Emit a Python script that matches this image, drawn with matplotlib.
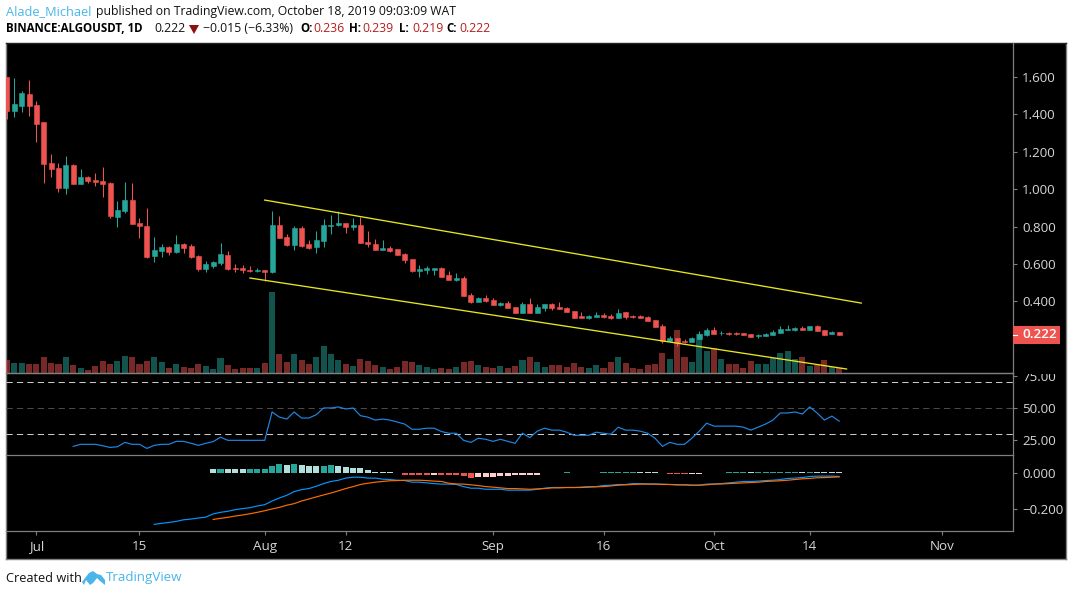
#!/usr/bin/env python3
import numpy as np
import pandas as pd
import matplotlib
matplotlib.use("Agg")
import matplotlib.pyplot as plt
import matplotlib.dates as mdates
from matplotlib.patches import Rectangle, Polygon
from matplotlib.transforms import Bbox

W, H = 1073, 596

dates = pd.date_range("2019-06-27", periods=114)

opens = [1.60,1.420,1.447,1.509,1.450,1.359,1.140,1.113,1.008,1.129,1.030,1.065,1.049,1.044,1.033,0.851,0.883,0.942,0.819,0.803,0.644,0.671,0.691,0.666,0.707,0.696,0.643,0.573,0.591,0.605,0.648,0.578,0.578,0.568,0.564,0.568,0.557,
         .809,.744,.702,.792,.707,.691,.723,.803,.809,.819,.798,.809,.718,.707,.675,.686,.680,.653,.627,.562,.568,.568,.578,.541,.514,.525,.434,.397,.418,.407,.381,.391,.370,.338,.386,
         .338,.364,.386,.370,.364,.349,.322,.311,.317,.327,.322,.311,.343,.322,.322,.317,.300,.268,.188,.204,.188,.183,.199,.220,.247,.230,.231,.231,.231,.226,.213,.215,.220,.231,.247,.247,.258,.247,.268,.247,.226,.236]
highs = [1.60,1.595,1.525,1.584,1.470,1.359,1.188,1.140,1.177,1.135,1.108,1.069,1.087,1.119,1.038,.937,1.038,1.033,.846,.899,.744,.707,.696,.755,.712,.707,.648,.616,.616,.712,.669,.600,.595,.589,.578,.568,.883,
         .857,.760,.803,.803,.728,.776,.841,.862,.883,.819,.846,.851,.776,.734,.728,.696,.680,.659,.627,.595,.589,.578,.584,.562,.552,.536,.445,.423,.434,.418,.397,.402,.370,.397,.418,
         .386,.386,.391,.397,.370,.349,.343,.327,.343,.338,.333,.359,.343,.327,.327,.322,.300,.279,.215,.204,.199,.209,.242,.258,.263,.242,.236,.236,.231,.226,.226,.231,.247,.268,.274,.263,.268,.268,.274,.247,.242,.239]
lows = [1.377,1.388,1.415,1.393,1.254,1.035,1.067,.987,.976,1.030,1.030,1.035,1.019,.960,.848,.800,.873,.816,.741,.634,.612,.639,.650,.661,.661,.634,.564,.559,.580,.595,.568,.557,.552,.557,.557,.511,.552,
        .739,.696,.675,.691,.680,.659,.691,.760,.803,.766,.782,.712,.691,.675,.675,.664,.648,.605,.557,.530,.546,.541,.530,.514,.509,.429,.391,.397,.397,.381,.375,.365,.338,.338,.338,
        .338,.349,.354,.359,.343,.311,.311,.306,.317,.311,.306,.311,.306,.311,.311,.295,.263,.178,.188,.161,.178,.183,.199,.215,.226,.220,.220,.220,.220,.209,.204,.215,.220,.231,.247,.242,.247,.247,.242,.220,.226,.219]
closes = [1.420,1.455,1.514,1.447,1.350,1.137,1.108,1.008,1.129,1.030,1.065,1.044,1.040,1.028,.858,.889,.942,.816,.803,.639,.675,.691,.666,.707,.687,.639,.573,.600,.611,.654,.573,.573,.568,.562,.568,.557,.809,
          .739,.702,.792,.696,.685,.728,.809,.809,.819,.798,.809,.712,.707,.675,.686,.670,.648,.621,.562,.573,.578,.578,.530,.514,.525,.429,.397,.418,.402,.381,.391,.365,.338,.386,.338,
          .370,.386,.364,.359,.343,.311,.311,.322,.327,.317,.311,.338,.317,.317,.311,.295,.263,.188,.204,.178,.183,.204,.226,.247,.226,.231,.228,.228,.220,.209,.220,.226,.236,.252,.250,.258,.247,.268,.242,.220,.236,.222]
volumes = [39,30,30,27,27,48,30,27,48,24,15,9,21,36,27,36,51,48,27,36,48,33,15,27,18,15,27,21,12,45,24,12,15,15,15,30,243,
           57,33,57,39,27,48,81,57,39,27,21,42,36,24,18,12,18,36,33,24,18,12,15,12,18,33,36,24,18,15,21,15,21,39,48,
           33,18,24,24,18,30,18,15,24,15,33,48,30,15,12,24,27,60,42,129,48,33,117,66,75,42,27,27,15,36,27,27,45,60,66,42,48,21,24,39,18,15]

rsi_start = 9
rsi = [20.1,21.7,21.7,21.7,20.6,19.3,19.8,23.2,21.7,21.7,18.5,20.9,21.7,21.7,24.0,24.0,22.5,20.9,22.5,23.8,27.2,
       24.8,24.8,24.8,24.8,24.8,24.8,46.8,42.8,41.3,46.8,42.1,42.1,44.7,49.9,49.9,50.7,49.1,49.9,43.9,42.8,40.5,41.3,40.5,39.0,37.4,33.4,33.4,34.2,34.2,31.6,30.3,
       30.3,24.8,23.2,26.4,25.6,24.0,25.6,24.0,22.5,30.3,26.9,31.9,34.2,32.7,32.7,31.1,28.7,28.7,28.7,31.1,30.3,29.5,35.0,32.7,32.7,31.9,30.3,26.4,20.1,23.2,21.7,21.7,26.4,31.9,
       38.1,35.8,35.8,35.8,35.8,35.0,32.7,35.0,37.4,40.5,46.0,46.0,46.8,45.2,50.7,46.0,40.5,43.6,39.7]

macd_start = 20
macd = [-.287,-.281,-.276,-.270,-.261,-.257,-.251,-.246,-.228,-.219,-.213,-.204,-.198,-.193,-.183,-.176,-.155,-.138,-.123,-.102,-.091,-.085,-.072,-.057,-.045,-.038,-.026,-.021,-.021,-.026,-.026,-.032,-.034,-.038,-.040,-.049,-.049,-.053,-.057,-.060,-.060,-.062,
        -.074,-.083,-.083,-.089,-.089,-.089,-.094,-.094,-.094,-.094,-.089,-.083,-.079,-.079,-.079,-.079,-.077,-.074,-.074,-.068,-.066,-.062,-.062,-.057,-.057,-.059,-.059,-.060,-.062,-.064,-.064,-.066,-.066,-.060,-.059,-.057,-.053,-.049,-.045,-.045,-.043,-.040,-.038,-.034,-.028,-.026,-.023,-.017,-.015,-.015,-.015,-.017]

signal_start = 28
signal = [-.259,-.253,-.247,-.240,-.234,-.227,-.219,-.210,-.200,-.191,-.179,-.170,-.155,-.144,-.132,-.121,-.110,-.098,-.085,-.074,-.062,-.055,-.049,-.045,-.041,-.040,-.038,-.038,-.038,-.040,-.043,-.045,
          -.055,-.059,-.060,-.064,-.068,-.074,-.077,-.081,-.085,-.085,-.087,-.089,-.087,-.085,-.081,-.081,-.079,-.079,-.079,-.077,-.075,-.074,-.070,-.066,-.064,-.062,-.060,-.060,-.060,-.062,-.062,-.064,-.064,-.066,-.066,-.064,-.060,-.059,-.057,-.055,-.053,-.051,-.049,-.045,-.043,-.041,-.038,-.034,-.030,-.028,-.024,-.023,-.021,-.019]

hist_start = 28
hist = [.023,.028,.027,.026,.025,.026,.027,.028,.045,.051,.050,.051,.050,.045,.040,.045,.046,.040,.038,.032,.030,.017,.011,.007,.006,0,
        -.006,-.0065,-.007,-.0075,-.007,-.0075,-.008,-.009,-.013,-.023,-.022,-.018,-.017,-.016,-.015,-.011,-.008,-.007,-.006,0,0,
        .0055,.006,0,0,0,.0055,.0056,.0057,.0058,.0059,.006,.0059,.0058,.0057,0,-.0055,-.0056,-.0057,-.0056,-.0055,0,0,
        .0055,.0056,.0057,.0058,.0057,.0058,.0059,.006,.0061,.010,.011,.0105,.011,.006,.0058,.0057,.0056]

upper_channel = (["2019-08-01", "2019-10-21"], [.942, .391])
lower_channel = (["2019-07-30", "2019-10-19"], [.525, .0385])

price_ticks = [1.6, 1.4, 1.2, 1.0, 0.8, 0.6, 0.4]
rsi_ticks = [75, 50, 25]
macd_ticks = [0, -0.2]
time_ticks = ["2019-07-01", "2019-07-15", "2019-08-01", "2019-08-12", "2019-09-01",
              "2019-09-16", "2019-10-01", "2019-10-14", "2019-11-01"]
time_labels = ["Jul", "15", "Aug", "12", "Sep", "16", "Oct", "14", "Nov"]
last_price = 0.222

UP, DOWN = "#26a69a", "#ef5350"
UP_PALE, DOWN_PALE = "#b2dfdb", "#ffcdd2"
GRID = "#7f7f7f"
LABEL = "#d6d6d6"
FONT = "Open Sans"

plt.rcParams["font.family"] = FONT


def rect(l, t, r, b):
    return [l / W, 1 - b / H, (r - l) / W, (b - t) / H]


def pane(t, b, ylim, ticks, fmt):
    a = fig.add_axes(rect(6, t, 1013, b), facecolor="none")
    a.set_xlim(x[0] - 0.126, x[0] + 136.6)
    a.set_ylim(*ylim)
    a.yaxis.tick_right()
    a.set_yticks(ticks)
    a.set_yticklabels([fmt(v) for v in ticks])
    a.tick_params(axis="y", color=GRID, labelcolor=LABEL, labelsize=9.6, length=3, width=0.8, pad=3.5)
    a.tick_params(axis="x", bottom=False, labelbottom=False)
    for s in a.spines.values():
        s.set_color(GRID)
        s.set_linewidth(0.9)
    a.spines["top"].set_visible(False)
    a.spines["left"].set_visible(False)
    return a


def money(v):
    return f"{v:.3f}".replace("-", "\u2212")


fig = plt.figure(figsize=(W / 100, H / 100), dpi=100, facecolor="white")
x = mdates.date2num(dates)
o, hi, lo, c = map(np.array, (opens, highs, lows, closes))
col = np.where(c < o, DOWN, UP)

# black card behind the panes
card = fig.add_axes(rect(6, 43, 1066, 559), facecolor="black")
card.set_xticks([])
card.set_yticks([])
for name, s in card.spines.items():
    s.set_color(GRID)
    s.set_linewidth(1.0)
card.spines["top"].set_color("#222222")

# volume sits under the candles
ax_vol = pane(43, 373.3, (0, 990), [], str)
ax_vol.bar(x, volumes, width=0.82, color=col, alpha=0.5, linewidth=0)
ax_vol.spines["right"].set_visible(False)

ax = pane(43, 373.3, (0.0155, 1.782), price_ticks, money)
ax.vlines(x, lo, hi, color=col, linewidth=0.75)
ax.bar(x, np.abs(c - o), bottom=np.minimum(o, c), width=0.68, color=col, edgecolor=col, linewidth=0.4)
for dd, pp in (upper_channel, lower_channel):
    ax.plot(mdates.date2num(pd.to_datetime(dd)), pp, color="#e6e621", linewidth=0.95)

# last price tag
ax.add_patch(Rectangle((1, last_price - 0.048), 47 / 1007, 0.096, transform=ax.get_yaxis_transform(),
                       color=DOWN, clip_on=False, zorder=5, linewidth=0))
ax.plot([1, 1 + 4 / 1007], [last_price] * 2, transform=ax.get_yaxis_transform(), color="white",
        linewidth=0.8, clip_on=False, zorder=6)
ax.text(1 + 9 / 1007, last_price, money(last_price), transform=ax.get_yaxis_transform(), color="white",
        fontsize=9.6, va="center", ha="left", zorder=6, fontweight="semibold")

ax_rsi = pane(373.3, 455.4, (13.1, 76.8), rsi_ticks, lambda v: f"{v:.2f}")
ax_rsi.plot(x[rsi_start:rsi_start + len(rsi)], rsi, color="#1e88e5", linewidth=0.85)
for level, shade in ((70, "#c8c8c8"), (50, "#4a4a4a"), (30, "#c8c8c8")):
    ax_rsi.axhline(level, color=shade, linewidth=0.75, linestyle=(0, (6, 4)), zorder=1)
for lbl in ax_rsi.get_yticklabels():
    lbl.set_clip_on(True)
    lbl.set_clip_box(Bbox.from_extents(1013, 0, 1066, H - 374))

ax_macd = pane(455.4, 531.3, (-0.326, 0.102), macd_ticks, money)
hx = x[hist_start:hist_start + len(hist)]
hcol = []
for i, v in enumerate(hist):
    prev = hist[i - 1] if i else v + 1
    if v >= 0:
        hcol.append(UP if v >= prev else UP_PALE)
    else:
        hcol.append(DOWN if v <= prev else DOWN_PALE)
ax_macd.bar(hx, hist, width=0.82, color=hcol, linewidth=0)
ax_macd.plot(x[macd_start:macd_start + len(macd)], macd, color="#0496ff", linewidth=0.85)
ax_macd.plot(x[signal_start:signal_start + len(signal)], signal, color="#ff6d00", linewidth=0.85)
ax_macd.tick_params(axis="x", bottom=True, labelbottom=True, color=GRID, labelcolor=LABEL,
                    labelsize=9.6, length=3, width=0.8, pad=3)
ax_macd.set_xticks(mdates.date2num(pd.to_datetime(time_ticks)))
ax_macd.set_xticklabels(time_labels)


# header
def put(px, py, s, color="black", weight="normal", size=8.8):
    fig.text(px / W, 1 - py / H, s, color=color, fontweight=weight, fontsize=size, va="center", ha="left")


put(6, 12, "Alade_Michael", "#4ab5e8", size=9.2)
put(96, 12, "published on TradingView.com, October 18, 2019 09:03:09 WAT", "#111111")
put(6, 29, "BINANCE:ALGOUSDT, 1D", "black", "bold", 8.3)
put(154, 29, "0.222", "#111111")
put(203, 29, "\u22120.015 (\u22126.33%)", "#111111")
fig.add_artist(Polygon([(189 / W, 1 - 25 / H), (199 / W, 1 - 25 / H), (194 / W, 1 - 34 / H)],
                       transform=fig.transFigure, color="#8b1010", linewidth=0))
for px, s, v in ((300, "O:", "0.236"), (349, "H:", "0.239"), (399, "L:", "0.219"), (446, "C:", "0.222")):
    put(px, 29, s, "black", "bold", 8.3)
    put(px + 13, 29, v, "#b71c1c")

# footer
put(6, 578, "Created with", "#111111", size=9.2)
put(106, 578, "TradingView", "#4ab5e8", size=9.6)
logo = [(82, 582), (89, 573), (93, 571), (97, 574), (101, 575), (105, 580), (105, 585), (100, 581),
        (97, 578), (93, 583), (90, 585), (86, 580), (84, 585)]
fig.add_artist(Polygon([(a / W, 1 - b / H) for a, b in logo], transform=fig.transFigure,
                       color="#4ab5e8", linewidth=0))

fig.savefig("out.png", dpi=100, facecolor="white")
